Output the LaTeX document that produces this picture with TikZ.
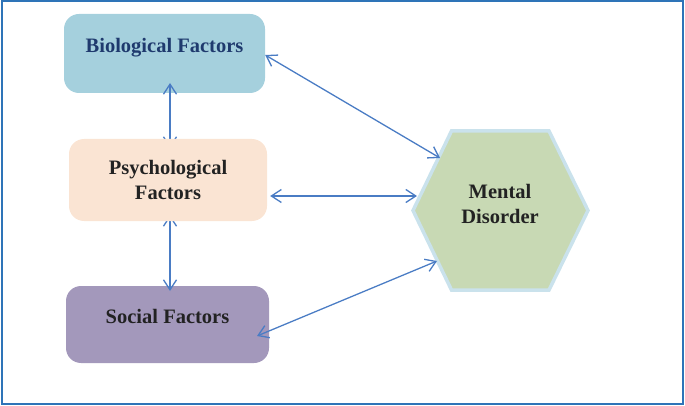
\documentclass[tikz,border=0pt]{standalone}
\usepackage{fontspec}
\setmainfont{Liberation Serif}
\usetikzlibrary{arrows.meta}
\pgfdeclarelayer{bg}
\pgfdeclarelayer{arr}
\pgfsetlayers{bg,arr,main}
\definecolor{frameblue}{HTML}{2E74B8}
\definecolor{arrblue}{HTML}{4A7CC4}
\definecolor{biofill}{HTML}{A5D0DD}
\definecolor{biotext}{HTML}{1F3A6E}
\definecolor{psyfill}{HTML}{FAE4D3}
\definecolor{socfill}{HTML}{A398BB}
\definecolor{hexfill}{HTML}{C8D9B4}
\definecolor{hexline}{HTML}{CAE2EC}
\definecolor{txt}{HTML}{222222}
\tikzset{
  labelfont/.style={font=\fontsize{20.5}{25.5}\selectfont\bfseries, text=txt, align=center},
  box/.style={rounded corners=15pt, inner sep=0pt, labelfont},
  link/.style={draw=arrblue, line width=1.3pt, {Straight Barb[length=10pt,width=13pt]}-{Straight Barb[length=10pt,width=13pt]}}
}
\begin{document}
\begin{tikzpicture}[x=1pt,y=-1pt]
\useasboundingbox (0,0) rectangle (685,406);
\draw[frameblue, line width=2pt] (1.5,1.5) rectangle (683,404);
\begin{pgfonlayer}{bg}
\node[box, fill=biofill, text=biotext, minimum width=201pt, minimum height=79pt, text height=14pt, text depth=16pt] (bio) at (164.5,53.5) {Biological Factors};
\node[box, fill=socfill, minimum width=203pt, minimum height=77pt, text height=14pt, text depth=17pt] (soc) at (167.5,324.5) {Social Factors};
\fill[hexfill, draw=hexline, line width=3.5pt, line join=miter] (413,210.5) -- (451.5,131) -- (549,131) -- (588,210.5) -- (549,290) -- (451.5,290) -- cycle;
\node[labelfont] (hex) at (500,204) {Mental\\Disorder};
\end{pgfonlayer}
\node[box, fill=psyfill, minimum width=198pt, minimum height=82pt] (psy) at (168,180) {Psychological\\Factors};
\coordinate (h1) at (440,158);
\coordinate (h2) at (417,196);
\coordinate (h3) at (437,261);
\begin{pgfonlayer}{arr}
\draw[link] (bio.east |- 0,55) -- (h1);
\draw[link] (170,83) -- (170,148);
\draw[link] (psy.east |- 0,196) ++(3,0) -- (h2);
\draw[link] (170,215) -- (170,291);
\draw[link] (257,336) -- (h3);
\end{pgfonlayer}
\end{tikzpicture}
\end{document}
